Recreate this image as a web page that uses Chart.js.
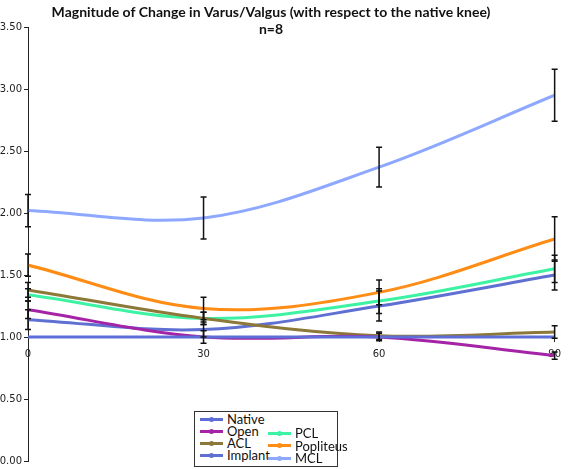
<!DOCTYPE html>
<html>
<head>
<meta charset="utf-8">
<script src="https://cdn.jsdelivr.net/npm/chart.js@4"></script>
<style>
  body { margin: 0; background: #fff; }
  #wrap { position: relative; width: 568px; height: 469px; }
  #legend {
    position: absolute; left: 194px; top: 411px; width: 144px; height: 56px;
    border: 1px solid #333; background: #fff; box-sizing: border-box;
    font-family: "Lato", "Open Sans", sans-serif; font-size: 13px; color: #111;
  }
  .col { position: absolute; }
  .item { height: 12px; line-height: 12px; display: flex; align-items: center; white-space: nowrap; }
  .col.right .item { height: 12.5px; }
  .swatch { width: 23px; height: 3px; margin-right: 4px; position: relative; }
  .swatch i { position: absolute; left: 9px; top: -1px; width: 5px; height: 5px; border-radius: 3px; }
</style>
</head>
<body>
<div id="wrap">
  <canvas id="varus-valgus" width="568" height="469"></canvas>
  <div id="legend"></div>
</div>
<script>
// Flexion angles (degrees)
const angles = [0, 30, 60, 90];

// Series names, in drawing order
const seriesNames = ["Native", "Open", "ACL", "Implant", "PCL", "Popliteus", "MCL"];

// Mean values
const nativeVals    = [1.00, 1.00, 1.00, 1.00];
const openVals      = [1.22, 1.00, 1.00, 0.85];
const aclVals       = [1.38, 1.15, 1.01, 1.04];
const implantVals   = [1.14, 1.06, 1.25, 1.50];
const pclVals       = [1.34, 1.15, 1.29, 1.55];
const popliteusVals = [1.58, 1.23, 1.36, 1.79];
const mclVals       = [2.02, 1.96, 2.37, 2.95];

// Error bar half-widths (estimated)
const nativeErr    = [0.00, 0.00, 0.00, 0.00];
const openErr      = [0.07, 0.05, 0.03, 0.03];
const aclErr       = [0.06, 0.05, 0.03, 0.05];
const implantErr   = [0.08, 0.06, 0.12, 0.12];
const pclErr       = [0.05, 0.05, 0.10, 0.11];
const popliteusErr = [0.09, 0.09, 0.10, 0.18];
const mclErr       = [0.13, 0.17, 0.16, 0.21];

const yTicks = [0, 0.5, 1, 1.5, 2, 2.5, 3, 3.5];

const seriesColors = ["#5d6fd6", "#a423a6", "#8c7838", "#5f70d2", "#3ef2a4", "#ff8c14", "#8ea8ff"];
const allVals = [nativeVals, openVals, aclVals, implantVals, pclVals, popliteusVals, mclVals];
const allErrs = [nativeErr, openErr, aclErr, implantErr, pclErr, popliteusErr, mclErr];

const datasets = seriesNames.map((name, i) => ({
    label: name,
    data: angles.map((a, j) => ({ x: a, y: allVals[i][j] })),
    errors: allErrs[i],
    borderColor: seriesColors[i],
    backgroundColor: seriesColors[i],
    borderWidth: 3,
    pointRadius: 0,
    tension: 0.35,
    fill: false
}));

// Draw error bars through the chart's scales
const errorBars = {
    id: "errorBars",
    afterDatasetsDraw(chart) {
        const ctx = chart.ctx;
        const xs = chart.scales.x, ys = chart.scales.y;
        ctx.save();
        ctx.strokeStyle = "#111";
        ctx.lineWidth = 1.5;
        chart.data.datasets.forEach(ds => {
            ds.data.forEach((p, j) => {
                const e = ds.errors[j];
                if (!e) return;
                const x = xs.getPixelForValue(p.x);
                const y1 = ys.getPixelForValue(p.y + e);
                const y2 = ys.getPixelForValue(p.y - e);
                ctx.beginPath();
                ctx.moveTo(x, y1); ctx.lineTo(x, y2);
                ctx.moveTo(x - 3, y1); ctx.lineTo(x + 3, y1);
                ctx.moveTo(x - 3, y2); ctx.lineTo(x + 3, y2);
                ctx.stroke();
            });
        });
        ctx.restore();
    }
};

// Title drawn on top, overlapping the plot like the original
const titleText = {
    id: "titleText",
    afterDraw(chart) {
        const ctx = chart.ctx;
        ctx.save();
        ctx.fillStyle = "#111";
        ctx.font = "bold 14px Lato, 'Open Sans', sans-serif";
        ctx.textAlign = "center";
        ctx.textBaseline = "middle";
        ctx.fillText("Magnitude of Change in Varus/Valgus (with respect to the native knee)", 271, 12);
        ctx.fillText("n=8", 271, 29);
        ctx.restore();
    }
};

new Chart("varus-valgus", {
    type: "line",
    data: { datasets: datasets },
    options: {
        responsive: false,
        animation: false,
        layout: { padding: { top: 27, right: 6, bottom: 5, left: 0 } },
        plugins: { legend: { display: false }, tooltip: { enabled: false } },
        scales: {
            x: {
                type: "linear",
                position: { y: 1 },
                min: 0, max: 90,
                afterBuildTicks: axis => { axis.ticks = angles.map(v => ({ value: v })); },
                grid: { display: true, drawOnChartArea: false, tickLength: 4, color: "#222" },
                border: { color: "#222", width: 1 },
                ticks: { font: { family: "DejaVu Sans", size: 10 }, color: "#222", padding: 7 }
            },
            y: {
                min: 0, max: 3.5,
                afterBuildTicks: axis => { axis.ticks = yTicks.map(v => ({ value: v })); },
                afterFit: axis => { axis.width = 28; },
                grid: { display: true, drawOnChartArea: false, tickLength: 4, color: "#222" },
                border: { color: "#222", width: 1 },
                ticks: {
                    font: { family: "DejaVu Sans", size: 10 }, color: "#222", padding: 2,
                    callback: v => v.toFixed(2)
                }
            }
        }
    },
    plugins: [errorBars, titleText]
});

// Two-column legend like the original
const legend = document.getElementById("legend");
const leftCol = document.createElement("div");
leftCol.className = "col"; leftCol.style.left = "5px"; leftCol.style.top = "1px";
const rightCol = document.createElement("div");
rightCol.className = "col right"; rightCol.style.left = "73px"; rightCol.style.top = "15px";
seriesNames.forEach((name, i) => {
    const item = document.createElement("div");
    item.className = "item";
    item.innerHTML = '<span class="swatch" style="background:' + seriesColors[i] + '"><i style="background:' +
        seriesColors[i] + '"></i></span>' + name;
    (i < 4 ? leftCol : rightCol).appendChild(item);
});
legend.appendChild(leftCol);
legend.appendChild(rightCol);
</script>
</body>
</html>
